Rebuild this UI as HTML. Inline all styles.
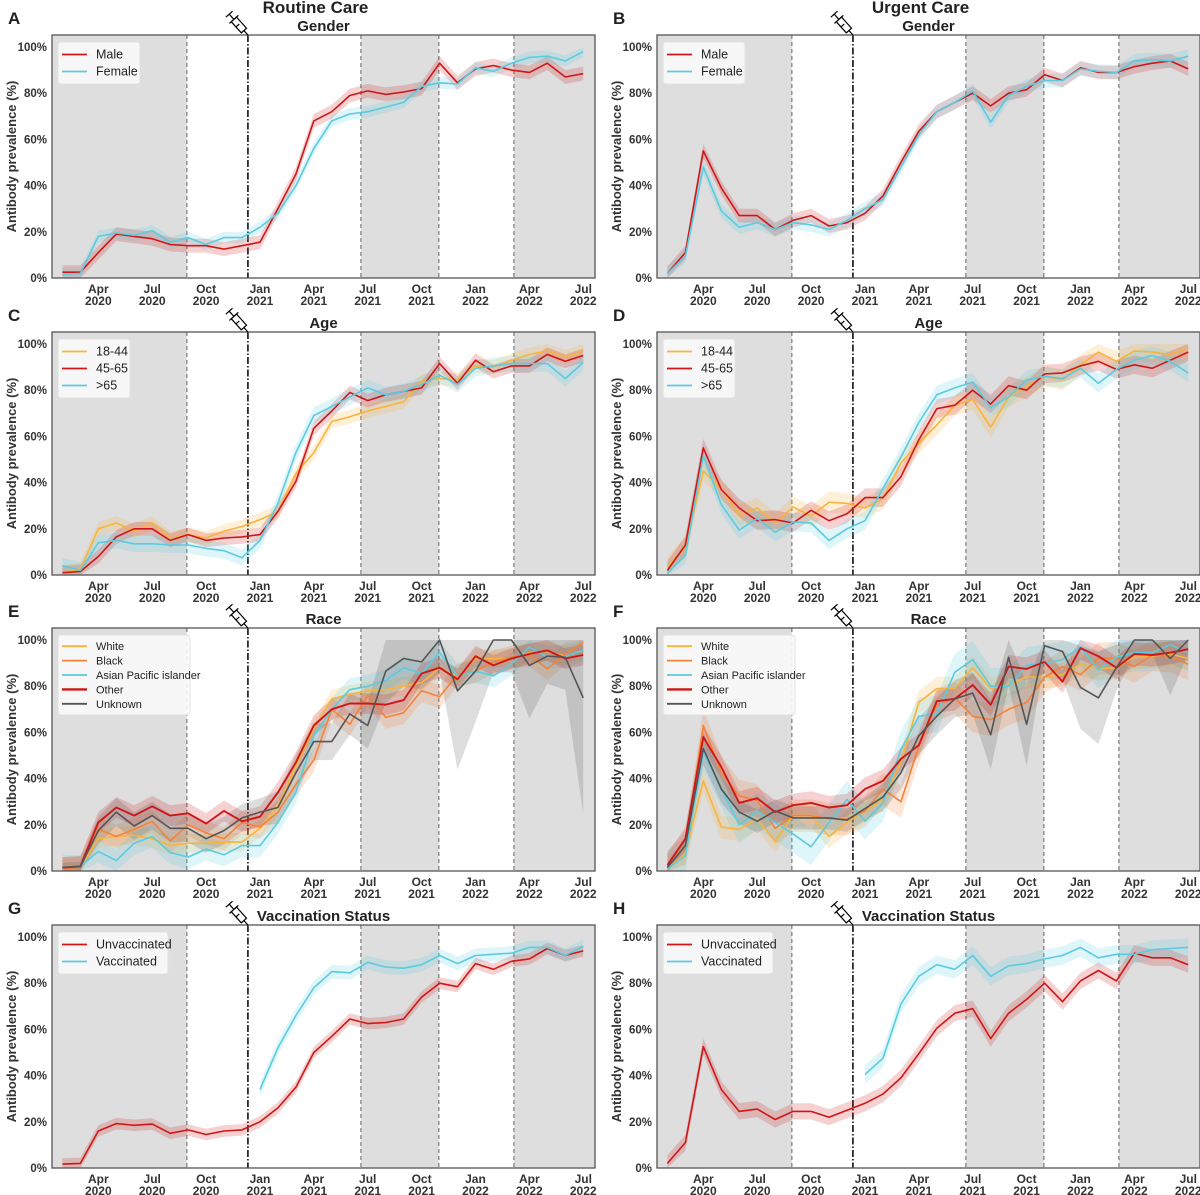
<!DOCTYPE html>
<html><head><meta charset="utf-8"><style>
body{margin:0;background:#fff;}
svg{display:block;font-family:"Liberation Sans",Arial,sans-serif;}
</style></head>
<body>
<svg id="chart" width="1200" height="1195" viewBox="0 0 1200 1195" xmlns="http://www.w3.org/2000/svg"></svg>
<script>
// ---- shared axis data ----
const tickLabelsTop = ["Apr","Jul","Oct","Jan","Apr","Jul","Oct","Jan","Apr","Jul"];
const tickLabelsBottom = ["2020","2020","2020","2021","2021","2021","2021","2022","2022","2022"];
const tickMonthIdx = [2,5,8,11,14,17,20,23,26,29];
const yTicks = [0,20,40,60,80,100];
const shadedRanges = [[-0.58,6.93],[16.62,20.96],[25.14,29.65]];
const dashedLines = [6.93,16.62,20.96,25.14];
const vaccineLine = 10.33;

// ---- Panel A (Routine Care, Gender) ----
const aMale   = [2.5,2.5,11,19,18,17,14.5,14,14,12.5,14,15.5,30,45,68,72,79,81,79.5,80.5,82,93,84.5,90.5,92,90,89,93,87,88.5];
const aFemale = [1.5,2,18,19.5,18.5,20.5,15.5,17.5,14.5,17.5,17.5,22,28,40,56,68,71,72,74,76,83,84.5,84,91,89.5,93,95.5,96,94,98];
// ---- Panel B (Urgent Care, Gender) ----
const bMale   = [2,11,55,39,27,27,21,25,27,22.5,24,28,35.5,50,63.5,72,76,80,74.5,80,81.5,88,85.5,91,89,89,91.5,93,94,90.5];
const bFemale = [2,9.5,48,29,22,24,21,24,23,21,25,30,34,48,62,72,76,81,67.5,79,83,85.5,85.5,90.5,89.5,89,94,94.5,94,96];
// ---- Panel C (Routine, Age) ----
const c1844 = [1,2.5,20,22.5,19,22.5,16,17.5,16,19,21,24,27.5,44,53,66.5,68.5,71,73,75,84,85,84.5,90.5,90,93,95.5,97,94.5,97];
const c4565 = [1,1.5,8,16.5,20,20,15,17.5,15,16,16.5,17.5,27.5,40.5,63.5,71,79,75.5,78,79.5,81,91.5,83,93,88,90.5,90.5,95.5,92.5,95];
const c65   = [4,2,14,15,13.5,13.5,13,13,11.5,10.5,7.5,15,31,53,69,73,77,81,78,79.5,82.5,86.5,82.5,89.5,90.5,91.5,91.5,91.5,85,92];
// ---- Panel D (Urgent, Age) ----
const d1844 = [3.5,12,45,37.5,26,29,22.5,29.5,25.5,31.5,31,29,33,48.5,57,65,73.5,76,64,77,81.5,86,84.5,91,96.5,92.5,97,96.5,95.5,98];
const d4565 = [2,13,55,37,29,23.5,24,22.5,28,23.5,26.5,33.5,33.5,42.5,58.5,72,73.5,80,74,82,80,87,87.5,90.5,92.5,89,91,89.5,93,96.5];
const d65   = [1,8.5,51.5,30.5,19.5,24.5,18.5,23,22.5,15,20,23.5,37.5,51,66,78,81,83.5,72.5,77,84.5,86,85,89.5,83,89,93,95,92.5,87.5];
// ---- Panel E (Routine, Race) ----
const eWhite = [1.5,1.7,14,15,15.5,14,11,12,12,12.5,12.5,18.5,28,45.5,61.5,74.5,76.5,78,78.5,80,81.5,88,84,92,92,92,94.5,95,93,95.5];
const eBlack = [1,1.5,18,15,18,21.5,13,20,16.5,14,21,19,25.5,37.5,48,70,63.5,76,66.5,68.5,78,75.5,85,86.5,90.5,92.5,93.5,87.5,94,99];
const eAsian = [2,2,8.5,4.5,12,15,8,6,9.5,7,11,11,21,34,58.5,70,78.5,80,82.5,88,85.5,94.5,84.5,86.5,84.5,89.5,97,92.5,93,95.5];
const eOther = [1.5,2,21,27.5,24,28,24,25,20.5,26,21.5,23.5,34,47,63,70,72.5,72.5,72,74,85.5,88,83,93,89,92,94,95.5,92,93.5];
const eUnknown = [1.5,2,17.5,25.5,19.5,24,18.5,18.5,14,17.5,23,25.5,27.5,42.5,56,56,68,63,86.5,92,90.5,100,78,86.5,100,100,89,93,92.5,75];
const eUnknownCi = [2,2,6,6,6,6,6,6,6,6,6,6,7,8,8,8,9,10,14,12,12,14,34,22,14,14,23,12,14,50];
// ---- Panel F (Urgent, Race) ----
const fWhite = [1,7.5,39,19,18,22.5,13,24,24,15,21,26,31,47,73,79,79,88,79,80.5,84,84,85,89.5,87.5,88,92.5,93,94,92];
const fBlack = [2,10,63,42.5,32.5,30.5,18.5,24,24,22.5,22.5,26,35.5,30,54,72,75,67,65.5,70,73,84,88.5,85,92,92,88.5,93.5,93,89.5];
const fAsian = [1,6.5,51.5,35.5,20,26,21,16,10.5,21,31,21.5,29.5,52.5,67,68,86,91.5,80,80,89,90,91.5,97,87,92.5,94.5,94.5,98,94.5];
const fOther = [2.5,14,58,45,29.5,31.5,25.5,28.5,29.5,27.5,28.5,35.5,39,48.5,54.5,73.5,74.5,80.5,72,88.5,87.5,90.5,82,96.5,93,88,94,93.5,94.5,96];
const fUnknown = [1.5,11,53,35.5,25.5,21.5,26,23,23,23,22,27,32,42.5,58.5,67,74.5,77,59,92.5,63.5,97.5,95,79.5,75,88,100,100,92,100];
const fUnknownCi = [2,3,7,6,5,5,5,5,5,5,5,5,6,7,8,8,8,9,15,12,18,6,12,18,20,10,6,6,16,6];
// ---- Panel G (Routine, Vaccination) ----
const gUnvacc = [1.7,2,16,19.2,18.5,19,15,16.5,14.5,16,16.5,20,26,35,50,57,64.5,62.5,63,64.5,74,80,78.5,88.5,86,89.5,90.5,95,92,94];
const gVacc   = [null,null,null,null,null,null,null,null,null,null,null,34,52,66,78,85,84.5,89,87,86.5,88,92,88.5,92,92.5,93,95.5,95.5,92,96];
// ---- Panel H (Urgent, Vaccination) ----
const hUnvacc = [2,11,52.5,34,24.5,25.5,21,24.5,24.5,22,25,28,32,39,49.5,60.5,67,69,56,67,73,80,72,81,85.5,81,93,91,91,88];
const hVacc   = [null,null,null,null,null,null,null,null,null,null,null,40.5,47.5,71,83,88,86,92,83,87.5,88.5,90.5,92,95.5,91,92.5,92.5,94.5,95,95.5];

// ---- styles ----
const RED="#cf1717", CYAN="#5ccbe0", YEL="#f8b43c", ORG="#f5823a", GRY="#555555";
const colLeft=[52,657], rowTop=[35,332,628,925], PW=543, PH=243;
const svg=document.getElementById('chart');
const NS="http://www.w3.org/2000/svg";
function mk(tag,attrs,parent){const e=document.createElementNS(NS,tag);for(const k in attrs)e.setAttribute(k,attrs[k]);(parent||svg).appendChild(e);return e;}

function drawPanel(col,row,letter,title,subtitle,series,legendOpts){
  const L=colLeft[col], T=rowTop[row];
  const xs=i=>L+10.4+i*17.96;
  const ys=v=>T+PH-v*2.31;
  const g=mk('g',{});
  
  
  mk('rect',{x:L,y:T,width:PW,height:PH,fill:'#fff'},g);
  shadedRanges.forEach(r=>{
    const s=mk('rect',{x:xs(r[0]),y:T,width:xs(r[1])-xs(r[0]),height:PH,fill:'#dedede'},g);
    
    
  });
  dashedLines.forEach(m=>{
    const l=mk('line',{x1:xs(m),x2:xs(m),y1:T,y2:T+PH,stroke:'#7a7a7a','stroke-width':1.2,'stroke-dasharray':'4,3'},g);
    
    
  });
  const vl=mk('line',{x1:xs(vaccineLine),x2:xs(vaccineLine),y1:T,y2:T+PH,stroke:'#000','stroke-width':1.5,'stroke-dasharray':'7,2,1.5,2'},g);
  
  
  series.forEach(s=>{
    const idx=[];s.values.forEach((v,i)=>{if(v!==null)idx.push(i);});
    const ci=i=>Array.isArray(s.ci)?s.ci[i]:s.ci;
    let up=idx.map(i=>xs(i).toFixed(1)+','+ys(Math.min(100,s.values[i]+ci(i))).toFixed(1));
    let lo=idx.slice().reverse().map(i=>xs(i).toFixed(1)+','+ys(Math.max(0,s.values[i]-ci(i))).toFixed(1));
    const b=mk('polygon',{points:up.concat(lo).join(' '),fill:s.color,'fill-opacity':0.2,stroke:'none'},g);
    
    
  });
  series.forEach(s=>{
    const pts=[];s.values.forEach((v,i)=>{if(v!==null)pts.push(xs(i).toFixed(1)+','+ys(v).toFixed(1));});
    const p=mk('polyline',{points:pts.join(' '),fill:'none',stroke:s.color,'stroke-width':s.w||1.6,'stroke-linejoin':'round'},g);
    
    
  });
  const fr=mk('rect',{x:L,y:T,width:PW,height:PH,fill:'none',stroke:'#555','stroke-width':1.3},g);
  
  
  yTicks.forEach(v=>{
    const t=mk('text',{x:L-5,y:ys(v)+4,'text-anchor':'end','font-size':11.5,'font-weight':'bold',fill:'#333'},g);
    t.textContent=v+'%';
    
    
  });
  tickMonthIdx.forEach((m,k)=>{
    const t=mk('text',{x:xs(m),y:T+PH+15,'text-anchor':'middle','font-size':12,'font-weight':'bold',fill:'#333'},g);
    t.textContent=tickLabelsTop[k];
    
    
    const t2=mk('text',{x:xs(m),y:T+PH+27,'text-anchor':'middle','font-size':12,'font-weight':'bold',fill:'#333'},g);
    t2.textContent=tickLabelsBottom[k];
    
    
  });
  const yc=T+PH/2, yx=L-36;
  const yt=mk('text',{x:yx,y:yc,transform:'rotate(-90 '+yx+' '+yc+')','text-anchor':'middle','font-size':13,'font-weight':'bold',fill:'#333'},g);
  yt.textContent='Antibody prevalence (%)';
  
  
  const lt=mk('text',{x:L-44,y:T-11,'font-size':17,'font-weight':'bold',fill:'#222'},g);
  lt.textContent=letter;
  
  
  const cx=L+PW/2;
  if(title){
    const tt=mk('text',{x:cx-8,y:T-22,'text-anchor':'middle','font-size':17,'font-weight':'bold',fill:'#222'},g);
    tt.textContent=title;
    
    
  }
  const st=mk('text',{x:cx,y:T-4,'text-anchor':'middle','font-size':15,'font-weight':'bold',fill:'#222'},g);
  st.textContent=subtitle;
  
  
  // syringe icon: tip at top of vaccine line, body going up-left
  const sx=xs(vaccineLine), sy=T;
  const sg=mk('g',{transform:'translate('+sx+','+sy+') rotate(-42)',stroke:'#000','stroke-width':1.2,fill:'#fff'},g);
  
  
  mk('line',{x1:0,y1:0,x2:0,y2:-6},sg);
  mk('rect',{x:-3.5,y:-21,width:7,height:15},sg);
  mk('line',{x1:0,y1:-21,x2:0,y2:-28},sg);
  mk('line',{x1:-4.5,y1:-28,x2:4.5,y2:-28},sg);
  mk('line',{x1:-6,y1:-21,x2:6,y2:-21},sg);
  mk('line',{x1:-3.5,y1:-14,x2:1,y2:-14},sg);
  const lh=legendOpts.h, lf=legendOpts.fs;
  const lg=mk('g',{},g);
  
  
  mk('rect',{x:L+6,y:T+7,width:legendOpts.w,height:series.length*lh+8,rx:3,fill:'#fafafa','fill-opacity':0.9,stroke:'#e2e2e2'},lg);
  series.forEach((s,k)=>{
    const yy=T+7+4+lh/2+k*lh;
    const ll=mk('line',{x1:L+10,x2:L+35,y1:yy,y2:yy,stroke:s.color,'stroke-width':s.w?2.4:1.8},lg);
    
    
    const tx=mk('text',{x:L+44,y:yy+4,'font-size':lf,fill:'#222'},lg);
    tx.textContent=s.name;
    
    
  });
}

const leg2={w:82,h:17,fs:12.5}, leg2b={w:110,h:17,fs:12.5}, leg3={w:72,h:17,fs:12.5}, leg5={w:132,h:14.4,fs:11};
drawPanel(0,0,'A','Routine Care','Gender',[
  {key:'male',name:'Male',values:aMale,ci:3,color:RED},
  {key:'female',name:'Female',values:aFemale,ci:2.5,color:CYAN}],leg2);
drawPanel(1,0,'B','Urgent Care','Gender',[
  {key:'male',name:'Male',values:bMale,ci:3,color:RED},
  {key:'female',name:'Female',values:bFemale,ci:3,color:CYAN}],leg2);
drawPanel(0,1,'C',null,'Age',[
  {key:'age-18-44',name:'18-44',values:c1844,ci:3,color:YEL},
  {key:'age-45-65',name:'45-65',values:c4565,ci:3,color:RED},
  {key:'age-over-65',name:'>65',values:c65,ci:3.5,color:CYAN}],leg3);
drawPanel(1,1,'D',null,'Age',[
  {key:'age-18-44',name:'18-44',values:d1844,ci:4.5,color:YEL},
  {key:'age-45-65',name:'45-65',values:d4565,ci:4,color:RED},
  {key:'age-over-65',name:'>65',values:d65,ci:4,color:CYAN}],leg3);
drawPanel(0,2,'E',null,'Race',[
  {key:'white',name:'White',values:eWhite,ci:4,color:YEL},
  {key:'black',name:'Black',values:eBlack,ci:5,color:ORG},
  {key:'asian-pacific-islander',name:'Asian Pacific islander',values:eAsian,ci:5,color:CYAN},
  {key:'other',name:'Other',values:eOther,ci:4.5,color:RED,w:1.9},
  {key:'unknown',name:'Unknown',values:eUnknown,ci:eUnknownCi,color:GRY}],leg5);
drawPanel(1,2,'F',null,'Race',[
  {key:'white',name:'White',values:fWhite,ci:5,color:YEL},
  {key:'black',name:'Black',values:fBlack,ci:7,color:ORG},
  {key:'asian-pacific-islander',name:'Asian Pacific islander',values:fAsian,ci:8,color:CYAN},
  {key:'other',name:'Other',values:fOther,ci:5,color:RED,w:1.9},
  {key:'unknown',name:'Unknown',values:fUnknown,ci:fUnknownCi,color:GRY}],leg5);
drawPanel(0,3,'G',null,'Vaccination Status',[
  {key:'unvaccinated',name:'Unvaccinated',values:gUnvacc,ci:2.5,color:RED},
  {key:'vaccinated',name:'Vaccinated',values:gVacc,ci:3,color:CYAN}],leg2b);
drawPanel(1,3,'H',null,'Vaccination Status',[
  {key:'unvaccinated',name:'Unvaccinated',values:hUnvacc,ci:3.5,color:RED},
  {key:'vaccinated',name:'Vaccinated',values:hVacc,ci:4,color:CYAN}],leg2b);
</script>
</body></html>
